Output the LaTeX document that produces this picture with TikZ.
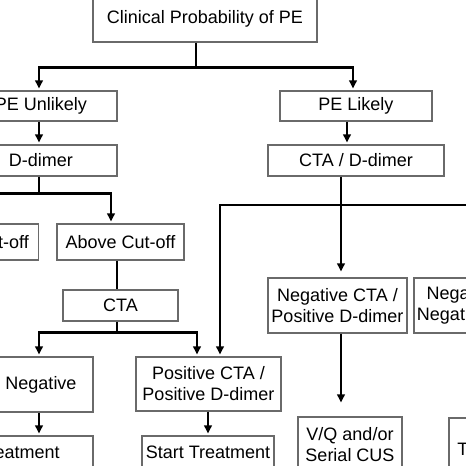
\documentclass[tikz,border=0pt]{standalone}
\usepackage{fontspec}
\setmainfont{Liberation Sans}
\usetikzlibrary{arrows.meta}
\definecolor{boxgray}{HTML}{6A6A6A}
\begin{document}
\begin{tikzpicture}[x=1pt,y=-1pt,
  box/.style={draw=boxgray, line width=1.1pt, fill=white, align=center, inner sep=0pt,
    font=\fontsize{18}{21}\selectfont},
  conn/.style={line width=2.8pt, black},
  arr/.style={conn, -{Triangle[length=8pt,width=7.5pt]}, shorten >=2pt}]
\useasboundingbox (0,0) rectangle (466,466);
\clip (0,0) rectangle (466,466);
% nodes
\node[box, minimum width=224pt, minimum height=46pt] (top) at (205,19) {Clinical Probability of PE};
\node[box, minimum width=152pt, minimum height=30pt] (unl) at (41,106) {PE Unlikely};
\node[box, minimum width=152pt, minimum height=30pt] (lik) at (356,106) {PE Likely};
\node[box, minimum width=152pt, minimum height=31pt] (dd) at (41,160.5) {D-dimer};
\node[box, minimum width=176pt, minimum height=31pt] (cd) at (356,160.5) {CTA / D-dimer};
\node[box, minimum width=127pt, minimum height=36pt] (bel) at (-25,242) {Below Cut-off};
\node[box, minimum width=127pt, minimum height=36pt] (abv) at (120.5,242) {Above Cut-off};
\node[box, minimum width=115pt, minimum height=31pt] (cta) at (120.5,305.5) {CTA};
\node[box, minimum width=104pt, minimum height=55pt] (neg) at (41,384.5) {Negative};
\node[box, minimum width=145pt, minimum height=54pt] (pos) at (208.5,384) {Positive CTA /\\Positive D-dimer};
\node[box, minimum width=139pt, minimum height=55pt] (ncpd) at (337.5,305.5) {Negative CTA /\\Positive D-dimer};
\node[box, minimum width=146pt, minimum height=55pt] (nnd) at (487,305.5) {Negative CTA /\\Negative D-dimer};
\node[box, minimum width=148pt, minimum height=32pt] (lt) at (19,452) {Treatment};
\node[box, minimum width=132pt, minimum height=32pt] (st) at (208,452) {Start Treatment};
\node[box, minimum width=104pt, minimum height=55pt] (vq) at (350,444.5) {V/Q and/or\\Serial CUS};
\node[box, minimum width=98pt, minimum height=55pt] (rt) at (498,445.5) {\mbox{}\\Treatment};
% connectors
\draw[conn] ([xshift=-9pt]top.south) -- ++(0,25) coordinate (j1);
\draw[arr] (j1) -| ([xshift=-2pt]unl.north);
\draw[arr] (j1) -| ([xshift=-3pt]lik.north);
\draw[arr] ([xshift=-2pt]unl.south) -- ([xshift=-2pt]dd.north);
\draw[arr] ([xshift=-9pt]lik.south) -- ([xshift=-9pt]cd.north);
\draw[conn] ([xshift=-2pt]dd.south) -- ++(0,17) coordinate (j2);
\draw[arr] (j2) -| (bel.north);
\draw[arr] (j2) -| ([xshift=-9.5pt]abv.north);
\draw[conn] ([xshift=-3.5pt]abv.south) -- ([xshift=-3.5pt]cta.north);
\draw[conn] ([xshift=-3.5pt]cta.south) -- ++(0,11) coordinate (j3);
\draw[arr] (j3) -| ([xshift=-2pt]neg.north);
\draw[arr] (j3) -| ([xshift=-11.5pt]pos.north);
\draw[arr, shorten >=6pt] ([xshift=-15pt]cd.south) -- ([xshift=3.5pt]ncpd.north);
\coordinate (j4) at ([xshift=11.5pt]pos.north |- 0,205);
\draw[arr] (nnd.north |- j4) -- (j4) -- ([xshift=11.5pt]pos.north);
\draw[arr] (j4) -| (nnd.north);
\draw[arr] ([xshift=-2pt]neg.south) -- ([xshift=20pt]lt.north);
\draw[arr] (st.north |- pos.south) -- (st.north);
\draw[arr, shorten >=14pt] ([xshift=3.5pt]ncpd.south) -- ([xshift=-9pt]vq.north);
\draw[arr, shorten >=14pt] (nnd.south -| rt.north) -- (rt.north);
\end{tikzpicture}
\end{document}
